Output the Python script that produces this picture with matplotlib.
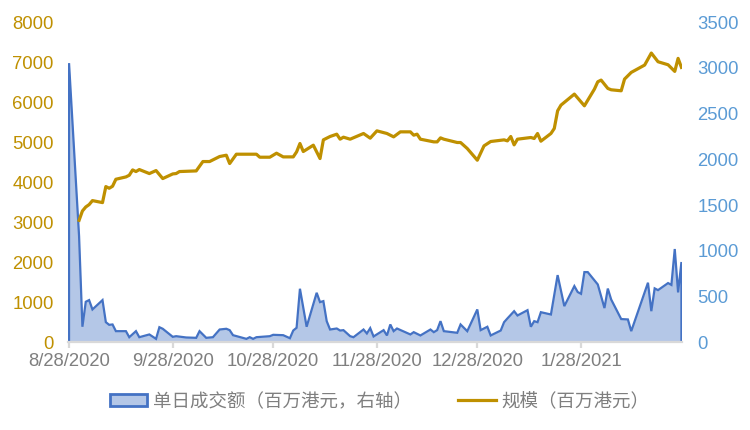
import numpy as np
import pandas as pd
import matplotlib
matplotlib.use("Agg")
import matplotlib.pyplot as plt
from matplotlib.patches import Patch
from matplotlib.lines import Line2D

plt.rcParams['font.family'] = ['Liberation Sans', 'Noto Sans CJK SC', 'DejaVu Sans']

# ====================== DATA ======================
# 规模（百万港元） - left axis
size_dates = ['2020-08-31', '2020-09-01', '2020-09-02', '2020-09-03', '2020-09-04',
              '2020-09-07', '2020-09-08', '2020-09-09', '2020-09-10', '2020-09-11',
              '2020-09-14', '2020-09-15', '2020-09-16', '2020-09-17', '2020-09-18',
              '2020-09-21', '2020-09-23', '2020-09-25', '2020-09-28', '2020-09-29',
              '2020-09-30', '2020-10-05', '2020-10-07', '2020-10-09', '2020-10-12',
              '2020-10-14', '2020-10-15', '2020-10-17', '2020-10-23', '2020-10-24',
              '2020-10-27', '2020-10-29', '2020-10-31', '2020-11-03', '2020-11-04',
              '2020-11-05', '2020-11-06', '2020-11-09', '2020-11-11', '2020-11-12',
              '2020-11-14', '2020-11-16', '2020-11-17', '2020-11-18', '2020-11-20',
              '2020-11-24', '2020-11-26', '2020-11-28', '2020-12-01', '2020-12-03',
              '2020-12-05', '2020-12-08', '2020-12-09', '2020-12-10', '2020-12-11',
              '2020-12-15', '2020-12-16', '2020-12-17', '2020-12-18', '2020-12-22',
              '2020-12-23', '2020-12-25', '2020-12-28', '2020-12-30', '2021-01-01',
              '2021-01-05', '2021-01-06', '2021-01-07', '2021-01-08', '2021-01-09',
              '2021-01-13', '2021-01-14', '2021-01-15', '2021-01-16', '2021-01-19',
              '2021-01-20', '2021-01-21', '2021-01-22', '2021-01-26', '2021-01-29',
              '2021-02-01', '2021-02-02', '2021-02-03', '2021-02-05', '2021-02-06',
              '2021-02-09', '2021-02-10', '2021-02-12', '2021-02-16', '2021-02-18',
              '2021-02-20', '2021-02-23', '2021-02-25', '2021-02-26', '2021-02-27']
size_vals = [3025, 3258, 3358, 3417, 3517,
             3467, 3867, 3825, 3875, 4050,
             4108, 4150, 4283, 4242, 4292,
             4192, 4267, 4067, 4183, 4192,
             4242, 4258, 4492, 4492, 4617,
             4650, 4442, 4675, 4675, 4600,
             4600, 4700, 4608, 4608, 4733,
             4942, 4742, 4900, 4567, 5033,
             5117, 5175, 5050, 5100, 5050,
             5192, 5075, 5258, 5192, 5108,
             5233, 5233, 5150, 5175, 5050,
             4983, 4983, 5083, 5050, 4967,
             4967, 4817, 4525, 4883, 4992,
             5033, 5008, 5117, 4908, 5050,
             5092, 5067, 5192, 5000, 5192,
             5317, 5758, 5900, 6175, 5883,
             6300, 6483, 6525, 6317, 6283,
             6258, 6550, 6717, 6900, 7200,
             6983, 6908, 6742, 7067, 6842]

# 单日成交额（百万港元） - right axis
turnover_dates = ['2020-08-28', '2020-08-31', '2020-09-01', '2020-09-02', '2020-09-03',
                  '2020-09-04', '2020-09-07', '2020-09-08', '2020-09-09', '2020-09-10',
                  '2020-09-11', '2020-09-14', '2020-09-15', '2020-09-17', '2020-09-18',
                  '2020-09-21', '2020-09-23', '2020-09-24', '2020-09-25', '2020-09-28',
                  '2020-09-29', '2020-10-02', '2020-10-05', '2020-10-06', '2020-10-08',
                  '2020-10-10', '2020-10-12', '2020-10-14', '2020-10-15', '2020-10-16',
                  '2020-10-20', '2020-10-21', '2020-10-22', '2020-10-23', '2020-10-27',
                  '2020-10-28', '2020-10-31', '2020-11-02', '2020-11-03', '2020-11-04',
                  '2020-11-05', '2020-11-07', '2020-11-10', '2020-11-11', '2020-11-12',
                  '2020-11-13', '2020-11-14', '2020-11-16', '2020-11-17', '2020-11-18',
                  '2020-11-20', '2020-11-21', '2020-11-24', '2020-11-25', '2020-11-26',
                  '2020-11-27', '2020-11-30', '2020-12-01', '2020-12-02', '2020-12-03',
                  '2020-12-04', '2020-12-08', '2020-12-09', '2020-12-11', '2020-12-14',
                  '2020-12-15', '2020-12-16', '2020-12-17', '2020-12-18', '2020-12-22',
                  '2020-12-23', '2020-12-25', '2020-12-28', '2020-12-29', '2020-12-31',
                  '2021-01-01', '2021-01-04', '2021-01-05', '2021-01-06', '2021-01-08',
                  '2021-01-09', '2021-01-12', '2021-01-13', '2021-01-14', '2021-01-15',
                  '2021-01-16', '2021-01-19', '2021-01-21', '2021-01-23', '2021-01-26',
                  '2021-01-27', '2021-01-28', '2021-01-29', '2021-01-30', '2021-02-02',
                  '2021-02-04', '2021-02-05', '2021-02-06', '2021-02-09', '2021-02-11',
                  '2021-02-12', '2021-02-17', '2021-02-18', '2021-02-19', '2021-02-20',
                  '2021-02-23', '2021-02-24', '2021-02-25', '2021-02-26', '2021-02-27']
turnover_vals = [3040, 1150, 161, 434, 452,
                 350, 452, 211, 182, 186,
                 113, 113, 47, 113, 47,
                 77, 29, 156, 139, 51,
                 58, 44, 40, 113, 40,
                 47, 131, 139, 124, 69,
                 29, 47, 29, 47, 58,
                 73, 69, 36, 120, 150,
                 576, 161, 532, 430, 441,
                 222, 131, 142, 120, 124,
                 58, 47, 131, 88, 146,
                 55, 124, 66, 186, 113,
                 142, 77, 102, 66, 131,
                 102, 124, 222, 113, 95,
                 186, 113, 350, 124, 161,
                 66, 120, 211, 252, 331,
                 284, 342, 161, 222, 211,
                 320, 295, 725, 386, 605,
                 540, 521, 758, 758, 623,
                 365, 578, 459, 245, 241,
                 113, 642, 331, 580, 561,
                 638, 618, 1010, 536, 868]

tick_dates = ['2020-08-28', '2020-09-28', '2020-10-28', '2020-11-28', '2020-12-28', '2021-01-28']
tick_labels = ['8/28/2020', '9/28/2020', '10/28/2020', '11/28/2020', '12/28/2020', '1/28/2021']

left_ticks = [0, 1000, 2000, 3000, 4000, 5000, 6000, 7000, 8000]
right_ticks = [0, 500, 1000, 1500, 2000, 2500, 3000, 3500]

size_label = '规模（百万港元）'
turnover_label = '单日成交额（百万港元，右轴）'

# ====================== STYLE ======================
GOLD = '#BF9000'
BLUE_LINE = '#4472C4'
BLUE_FILL = '#B4C7E7'
RIGHT_TICK = '#5B9BD5'
GREY_TEXT = '#7F7F7F'
AXIS_GREY = '#D9D9D9'
FS = 13.3

sd = pd.to_datetime(size_dates)
td = pd.to_datetime(turnover_dates)

fig = plt.figure(figsize=(7.5, 4.31), dpi=100)
ax = fig.add_axes([67.5 / 750, 1 - 342.5 / 431, 614.5 / 750, 320.5 / 431])
ax2 = ax.twinx()

# area on right axis (behind), outline closes down to zero on both ends
ax2.fill_between(td, turnover_vals, 0, color=BLUE_FILL, lw=0)
ax2.plot([td[0]] + list(td) + [td[-1]], [0] + turnover_vals + [0],
         color=BLUE_LINE, lw=1.6, solid_joinstyle='miter')

# size line on left axis (front)
ax.plot(sd, size_vals, color=GOLD, lw=2.3)
ax.set_zorder(ax2.get_zorder() + 1)
ax.patch.set_visible(False)

x0 = pd.Timestamp('2020-08-28') - pd.Timedelta(hours=11)
x1 = pd.Timestamp('2021-02-27') + pd.Timedelta(hours=4)
ax.set_xlim(x0, x1)
ax.set_ylim(0, 8000)
ax2.set_ylim(0, 3500)

ax.set_xticks(pd.to_datetime(tick_dates))
ax.set_xticklabels(tick_labels)
ax.set_yticks(left_ticks)
ax.set_yticklabels([str(v) for v in left_ticks])
ax2.set_yticks(right_ticks)
ax2.set_yticklabels([str(v) for v in right_ticks])

for a in (ax, ax2):
    for s in ('top', 'left', 'right'):
        a.spines[s].set_visible(False)
ax2.spines['bottom'].set_visible(False)
ax.spines['bottom'].set_color(AXIS_GREY)
ax.spines['bottom'].set_linewidth(1.6)

ax.tick_params(axis='x', colors=AXIS_GREY, length=4.5, width=1.6, pad=3,
               labelcolor=GREY_TEXT, labelsize=FS)
ax.tick_params(axis='y', length=0, pad=10, labelcolor=GOLD, labelsize=FS)
ax2.tick_params(axis='y', length=0, pad=11, labelcolor=RIGHT_TICK, labelsize=FS)

handles = [Patch(facecolor=BLUE_FILL, edgecolor=BLUE_LINE, linewidth=2),
           Line2D([0], [0], color=GOLD, lw=2.3)]
fig.legend(handles, [turnover_label, size_label], loc='center',
           bbox_to_anchor=(0.506, 1 - 402.5 / 431), ncol=2, frameon=False,
           prop={'family': ['Noto Sans CJK SC'], 'size': FS},
           labelcolor=GREY_TEXT, handlelength=2.05, handleheight=0.55,
           handletextpad=0.3, columnspacing=2.5, borderpad=0)

fig.savefig('out.png', dpi=100)
